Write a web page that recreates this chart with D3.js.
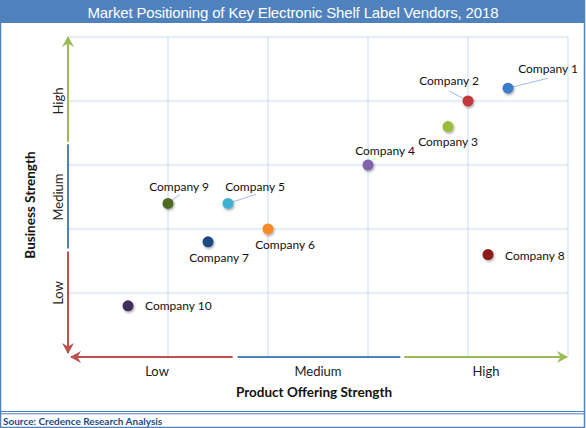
<!DOCTYPE html>
<html>
<head>
<meta charset="utf-8">
<script src="https://cdn.jsdelivr.net/npm/d3@7"></script>
<style>
  body { margin: 0; background: #fff; }
  svg { display: block; }
</style>
</head>
<body>
<div id="chart"></div>
<script>
// vendor positions (0..5 on both axes)
var companies = ["Company 1", "Company 2", "Company 3", "Company 4", "Company 5",
                 "Company 6", "Company 7", "Company 8", "Company 9", "Company 10"];
var productStrength = [4.4, 4.0, 3.8, 3.0, 1.6, 2.0, 1.4, 4.2, 1.0, 0.6];
var businessStrength = [4.2, 4.0, 3.6, 3.0, 2.4, 2.0, 1.8, 1.6, 2.4, 0.8];
var dotColors = ["#3d7cc9", "#c0393b", "#9bbb3b", "#8062b0", "#3fb1d0",
                 "#f58a2c", "#1f4a80", "#8b1a1a", "#4f6a24", "#3f2d5c"];

var xLevels = ["Low", "Medium", "High"];
var xLevelPos = [0.89, 2.5, 4.18];
var yLevels = ["Low", "Medium", "High"];
var yLevelPos = [1.0, 2.5, 4.0];

// label offsets in px from each dot: [dx, dy, anchor, leader end]
var labelPlace = [
    [40, -19, "middle", [40, -10]],
    [-19, -20, "middle", [-19, -10]],
    [0, 15, "middle", null],
    [17, -14, "middle", null],
    [27, -17, "middle", [28, -9]],
    [17, 16, "middle", null],
    [11, 16, "middle", null],
    [17, 1, "start", null],
    [11, -17, "middle", [12, -9]],
    [17, 0, "start", null]
];

var w = 586, h = 428;
var font = "Lato, 'Open Sans', sans-serif";

var svg = d3.select("#chart")
    .append("svg")
    .attr("width", w)
    .attr("height", h);

var defs = svg.append("defs");

var shadow = defs.append("filter")
    .attr("id", "shadow")
    .attr("x", "-50%").attr("y", "-50%")
    .attr("width", "200%").attr("height", "200%");
shadow.append("feDropShadow")
    .attr("dx", 1).attr("dy", 1.5)
    .attr("stdDeviation", 1.2)
    .attr("flood-color", "#000")
    .attr("flood-opacity", 0.35);

//arrow heads: green points outward, red points back to the origin
defs.append("marker")
    .attr("id", "arrowGreen")
    .attr("viewBox", "0 0 12 12")
    .attr("refX", 10).attr("refY", 6)
    .attr("markerWidth", 6).attr("markerHeight", 6)
    .attr("markerUnits", "strokeWidth")
    .attr("orient", "auto")
    .append("path")
    .attr("d", "M0,0 L11,6 L0,12 L3.5,6 Z")
    .attr("fill", "#9bbb59");

defs.append("marker")
    .attr("id", "arrowRed")
    .attr("viewBox", "0 0 12 12")
    .attr("refX", 2).attr("refY", 6)
    .attr("markerWidth", 6).attr("markerHeight", 6)
    .attr("markerUnits", "strokeWidth")
    .attr("orient", "auto")
    .append("path")
    .attr("d", "M12,0 L1,6 L12,12 L8.5,6 Z")
    .attr("fill", "#c0504d");

// frame
svg.append("rect")
    .attr("x", 0.5).attr("y", 0.5)
    .attr("width", w - 2).attr("height", h - 1)
    .attr("fill", "none")
    .attr("stroke", "#4f81bd")
    .attr("stroke-width", 1.5);

svg.append("rect")
    .attr("x", 0).attr("y", 0)
    .attr("width", w - 1).attr("height", 23)
    .attr("fill", "#4f81bd");

svg.append("text")
    .attr("x", 293).attr("y", 18)
    .attr("text-anchor", "middle")
    .attr("font-family", "'Liberation Sans', Arial, sans-serif")
    .attr("font-size", 15)
    .attr("textLength", 411)
    .attr("fill", "#fff")
    .text("Market Positioning of Key Electronic Shelf Label Vendors, 2018");

// double rule above the source line
[411.5, 413.8].forEach(function (yy) {
    svg.append("line")
        .attr("x1", 0).attr("x2", w - 1)
        .attr("y1", yy).attr("y2", yy)
        .attr("stroke", "#4f81bd")
        .attr("stroke-width", 1);
});

svg.append("text")
    .attr("x", 3).attr("y", 424.5)
    .attr("font-family", font)
    .attr("font-size", 10)
    .attr("font-weight", "bold")
    .attr("fill", "#1f497d")
    .text("Source: Credence Research Analysis");

var x = d3.scaleLinear().domain([0, 5]).range([68, 568]);
var y = d3.scaleLinear().domain([0, 5]).range([357, 37]);

// grid
svg.append("g")
    .selectAll("line")
    .data(d3.range(1, 6))
    .enter()
    .append("line")
    .attr("x1", function (d) { return x(d); })
    .attr("x2", function (d) { return x(d); })
    .attr("y1", y(0)).attr("y2", y(5))
    .attr("stroke", "#c9dcf0")
    .attr("stroke-width", 1);

svg.append("g")
    .selectAll("line")
    .data(d3.range(1, 6))
    .enter()
    .append("line")
    .attr("x1", x(0)).attr("x2", x(5))
    .attr("y1", function (d) { return y(d); })
    .attr("y2", function (d) { return y(d); })
    .attr("stroke", "#c9dcf0")
    .attr("stroke-width", 1);

// axes: three coloured pieces each
var third = 5 / 3;
var segs = [
    {a: 0, b: third - 0.02, color: "#c0504d", start: "url(#arrowRed)"},
    {a: third + 0.03, b: 2 * third - 0.01, color: "#4f81bd"},
    {a: 2 * third + 0.03, b: 5, color: "#9bbb59", end: "url(#arrowGreen)"}
];

segs.forEach(function (s) {
    var lx = svg.append("line")
        .attr("x1", x(s.a) + (s.start ? 3 : 0)).attr("x2", x(s.b) - (s.end ? 1 : 0))
        .attr("y1", y(0)).attr("y2", y(0))
        .attr("stroke", s.color)
        .attr("stroke-width", 2);
    var ly = svg.append("line")
        .attr("x1", x(0)).attr("x2", x(0))
        .attr("y1", y(s.a) - (s.start ? 4 : 0)).attr("y2", y(s.b))
        .attr("stroke", s.color)
        .attr("stroke-width", 2);
    if (s.start) {
        lx.attr("marker-start", s.start);
        ly.attr("marker-start", s.start);
    }
    if (s.end) {
        lx.attr("marker-end", s.end);
        ly.attr("marker-end", s.end);
    }
});

// level labels
svg.append("g")
    .selectAll("text")
    .data(xLevels)
    .enter()
    .append("text")
    .attr("x", function (d, i) { return x(xLevelPos[i]); })
    .attr("y", 376)
    .attr("text-anchor", "middle")
    .attr("font-family", font)
    .attr("font-size", 13)
    .attr("fill", "#222")
    .text(function (d) { return d; });

svg.append("g")
    .selectAll("text")
    .data(yLevels)
    .enter()
    .append("text")
    .attr("transform", function (d, i) { return "translate(63," + y(yLevelPos[i]) + ") rotate(-90)"; })
    .attr("text-anchor", "middle")
    .attr("font-family", font)
    .attr("font-size", 13)
    .attr("fill", "#222")
    .text(function (d) { return d; });

svg.append("text")
    .attr("x", 314).attr("y", 397)
    .attr("text-anchor", "middle")
    .attr("font-family", font)
    .attr("font-size", 13.5)
    .attr("font-weight", "bold")
    .attr("fill", "#111")
    .text("Product Offering Strength");

svg.append("text")
    .attr("transform", "translate(35,205) rotate(-90)")
    .attr("text-anchor", "middle")
    .attr("font-family", font)
    .attr("font-size", 13.5)
    .attr("font-weight", "bold")
    .attr("fill", "#111")
    .text("Business Strength");

// leader lines
var withLeader = companies.filter(function (d, i) { return labelPlace[i][3]; });
svg.append("g")
    .selectAll("line")
    .data(withLeader)
    .enter()
    .append("line")
    .attr("x1", function (d) { var i = companies.indexOf(d); return x(productStrength[i]); })
    .attr("y1", function (d) { var i = companies.indexOf(d); return y(businessStrength[i]); })
    .attr("x2", function (d) { var i = companies.indexOf(d); return x(productStrength[i]) + labelPlace[i][3][0]; })
    .attr("y2", function (d) { var i = companies.indexOf(d); return y(businessStrength[i]) + labelPlace[i][3][1]; })
    .attr("stroke", "#9dbde6")
    .attr("stroke-width", 1);

// dots
svg.append("g")
    .selectAll("circle")
    .data(companies)
    .enter()
    .append("circle")
    .attr("cx", function (d, i) { return x(productStrength[i]); })
    .attr("cy", function (d, i) { return y(businessStrength[i]); })
    .attr("r", 5.5)
    .attr("fill", function (d, i) { return dotColors[i]; })
    .attr("filter", "url(#shadow)")
    .append("title")
    .text(function (d) { return d; });

// company names
svg.append("g")
    .selectAll("text")
    .data(companies)
    .enter()
    .append("text")
    .attr("x", function (d, i) { return x(productStrength[i]) + labelPlace[i][0]; })
    .attr("y", function (d, i) { return y(businessStrength[i]) + labelPlace[i][1]; })
    .attr("dy", "0.35em")
    .attr("text-anchor", function (d, i) { return labelPlace[i][2]; })
    .attr("font-family", font)
    .attr("font-size", 12)
    .attr("fill", "#111")
    .text(function (d) { return d; });
</script>
</body>
</html>
